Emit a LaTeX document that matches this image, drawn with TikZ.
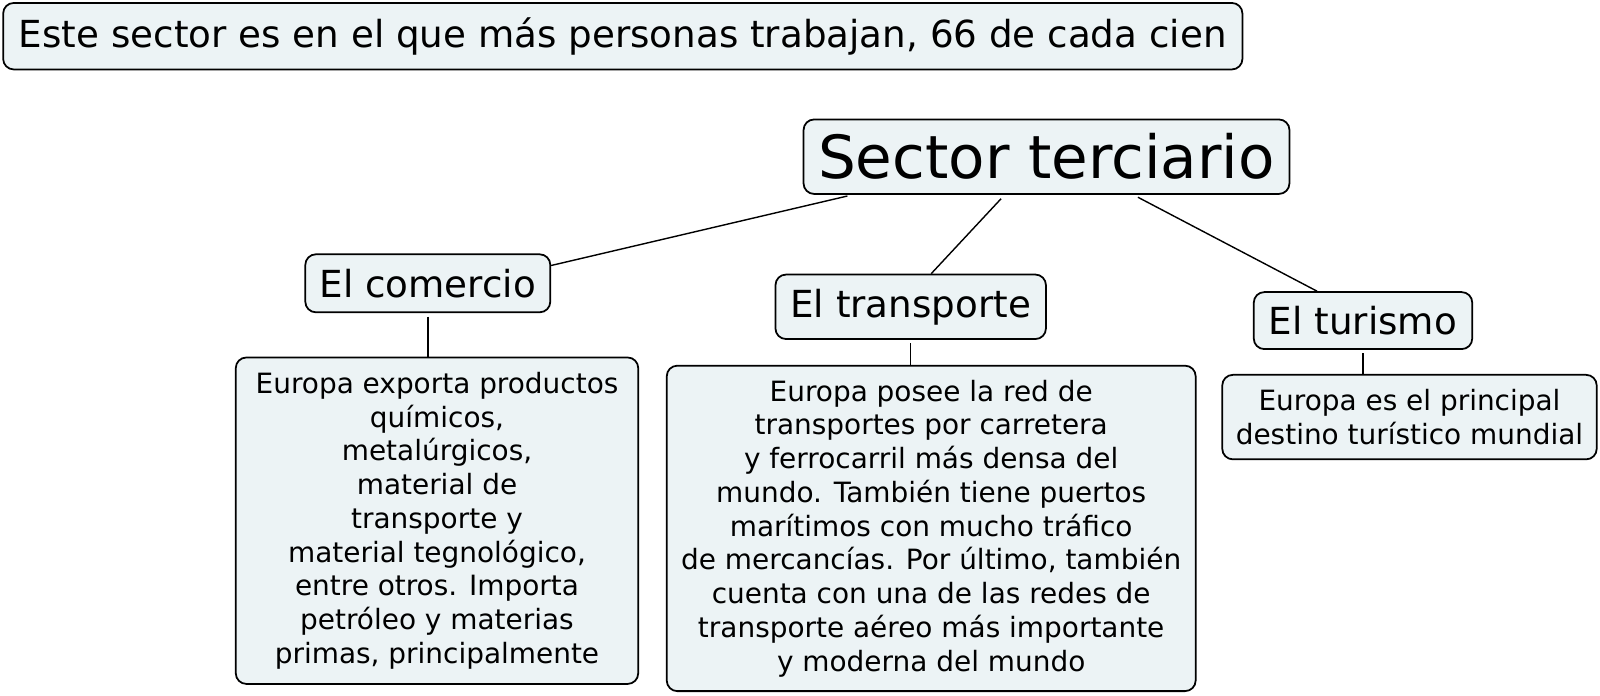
\documentclass[tikz,border=0pt]{standalone}
\usepackage{fontspec}
\setmainfont{DejaVu Sans}
\definecolor{boxfill}{RGB}{236,243,245}
\begin{document}
\begin{tikzpicture}[x=0.02cm,y=-0.02cm,
    box/.style={draw, line width=1pt, rounded corners=6pt, fill=boxfill, inner sep=0pt, align=center},
    desc/.style={box, font=\fontsize{15.9}{19.2}\selectfont},
    topic/.style={box, font=\fontsize{21.2}{25}\selectfont},
    link/.style={line width=0.8pt}]
    \useasboundingbox (0,0) rectangle (1600,696);
    % Nota superior
    \node[box, font=\fontsize{21.2}{25}\selectfont, minimum width=24.79cm, minimum height=1.33cm] (nota) at (622.8,36.2) {Este sector es en el que más personas trabajan, 66 de cada cien};
    % Concepto principal
    \node[box, font=\fontsize{33.9}{39}\selectfont, minimum width=9.72cm, minimum height=1.49cm] (sector) at (1046.5,156.7) {Sector terciario};
    % Subtemas
    \node[topic, minimum width=4.9cm, minimum height=1.16cm] (comercio) at (427.8,283.3) {El comercio};
    \node[topic, minimum width=5.41cm, minimum height=1.29cm] (transporte) at (910.7,306.8) {El transporte};
    \node[topic, minimum width=4.37cm, minimum height=1.14cm] (turismo) at (1363,320.6) {El turismo};
    % Descripciones
    \node[desc, minimum width=8.05cm, minimum height=6.53cm] (comercioTxt) at (437,520.7) {Europa exporta productos\\ químicos,\\ metalúrgicos,\\ material de\\ transporte y\\ material tegnológico,\\ entre otros. Importa\\ petróleo y materias\\ primas, principalmente};
    \node[desc, minimum width=10.58cm, minimum height=6.51cm] (transporteTxt) at (931.2,528.4) {Europa posee la red de\\ transportes por carretera\\ y ferrocarril más densa del\\ mundo. También tiene puertos\\ marítimos con mucho tráfico\\ de mercancías. Por último, también\\ cuenta con una de las redes de\\ transporte aéreo más importante\\ y moderna del mundo};
    \node[desc, minimum width=7.49cm, minimum height=1.69cm] (turismoTxt) at (1409.5,417.1) {Europa es el principal\\ destino turístico mundial};
    % Conectores
    \draw[link, shorten <=3pt] (sector.south -| 852.5,0) -- (comercio.east |- 0,265.5);
    \draw[link, shorten <=3pt] (sector.south -| 1004.7,0) -- (transporte.north -| 931.2,0);
    \draw[link, shorten <=3pt] (sector.south -| 1133.3,0) -- (turismo.north -| 1317.1,0);
    \draw[link, shorten <=2pt] (comercio.south) -- (comercioTxt.north -| comercio.south);
    \draw[link, shorten <=2pt] (transporte.south) -- (transporteTxt.north -| transporte.south);
    \draw[link, shorten <=2pt] (turismo.south) -- (turismoTxt.north -| turismo.south);
\end{tikzpicture}
\end{document}
